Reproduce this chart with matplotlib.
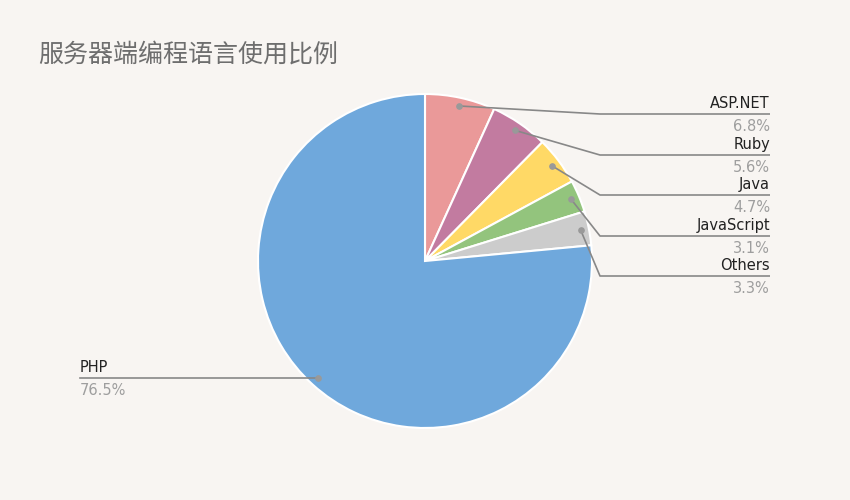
import numpy as np
import matplotlib.pyplot as plt

plt.rcParams['font.family'] = ['DejaVu Sans', 'Noto Sans CJK SC']

# data
labels = ["ASP.NET", "Ruby", "Java", "JavaScript", "Others", "PHP"]
shares = [6.8, 5.6, 4.7, 3.1, 3.3, 76.5]
colors = ["#EA9999", "#C27BA0", "#FFD966", "#93C47D", "#CCCCCC", "#6FA8DC"]
title = "服务器端编程语言使用比例"

BG = "#F8F5F2"
W, H = 850, 500
cx, cy, R = 425, 500 - 261, 167

fig = plt.figure(figsize=(W / 100, H / 100), dpi=100, facecolor=BG)
ax = fig.add_axes([0, 0, 1, 1])
ax.set_xlim(0, W)
ax.set_ylim(0, H)
ax.set_aspect("equal")
ax.axis("off")

ax.pie(shares, colors=colors, startangle=90, counterclock=False,
       center=(cx, cy), radius=R,
       wedgeprops=dict(edgecolor="white", linewidth=1.5))
ax.set_xlim(0, W)
ax.set_ylim(0, H)

# leader lines: right side labels stacked, PHP on the left
right_rows = [114, 155, 195, 236, 276]   # pixel y of label lines
elbow_x, right_x, left_x = 600, 770, 80

cum = np.cumsum([0] + shares)
for i, (lab, val) in enumerate(zip(labels, shares)):
    mid = (cum[i] + val / 2) / 100 * 360
    ang = np.deg2rad(90 - mid)
    px = cx + 0.95 * R * np.cos(ang)
    py = cy + 0.95 * R * np.sin(ang)
    if i < len(right_rows):
        ly = H - right_rows[i]
        ax.plot([px, elbow_x, right_x], [py, ly, ly], color="#888888", lw=1.2,
                solid_capstyle="butt", zorder=3)
        ax.text(right_x, ly + 3, lab, ha="right", va="bottom", fontsize=10.5, color="#222222")
        ax.text(right_x, ly - 5, f"{val}%", ha="right", va="top", fontsize=10.5, color="#9E9E9E")
    else:
        ax.plot([px, left_x], [py, py], color="#888888", lw=1.2, zorder=3)
        ax.text(left_x, py + 3, lab, ha="left", va="bottom", fontsize=10.5, color="#222222")
        ax.text(left_x, py - 5, f"{val}%", ha="left", va="top", fontsize=10.5, color="#9E9E9E")
    ax.plot(px, py, "o", ms=3.8, color="#999999", zorder=4)

fig.text(38 / W, 1 - 55 / H, title, ha="left", va="center", fontsize=18,
         color="#6E6E6E", family=["Noto Sans CJK SC", "DejaVu Sans"])

fig.savefig("out.png", dpi=100, facecolor=BG)
